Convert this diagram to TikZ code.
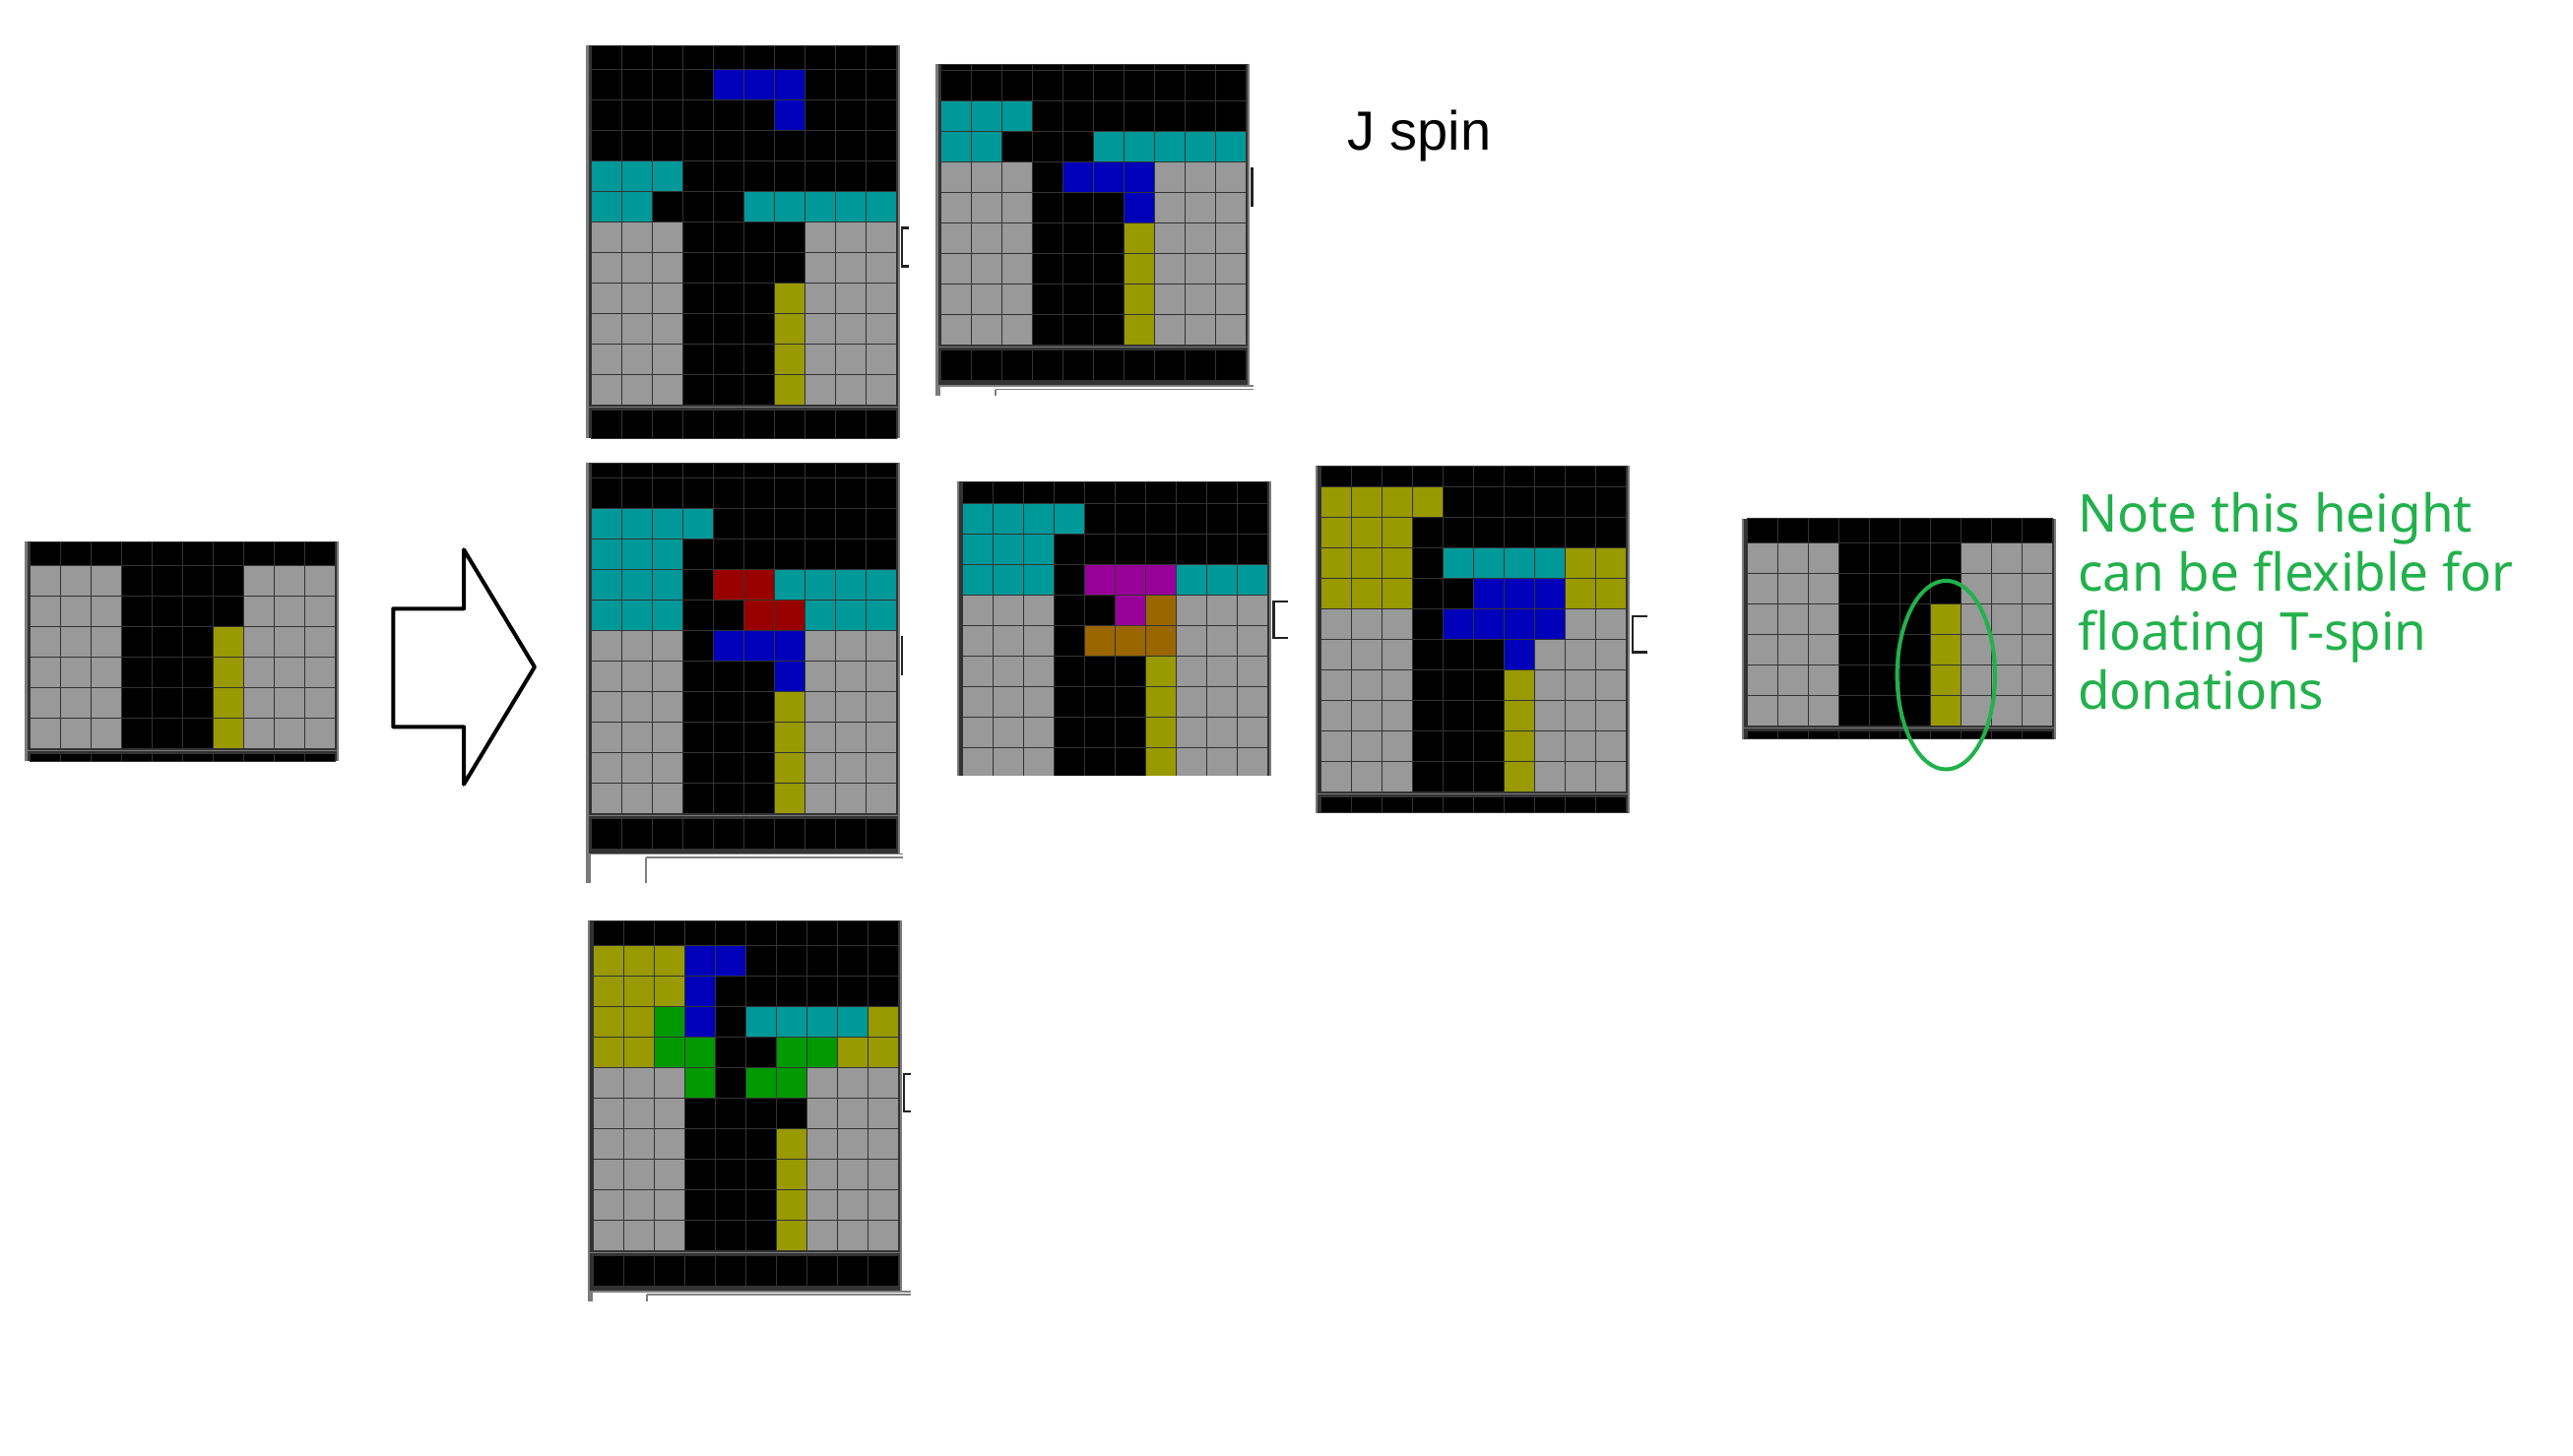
\documentclass[tikz,border=0pt]{standalone}
\usepackage{fontspec}
\newfontfamily\labelfont{Liberation Sans}
\newfontfamily\notefont{Noto Sans}
\definecolor{cG}{RGB}{153,153,153}
\definecolor{cK}{RGB}{0,0,0}
\definecolor{cY}{RGB}{153,153,0}
\definecolor{cT}{RGB}{0,153,153}
\definecolor{cB}{RGB}{0,0,187}
\definecolor{cR}{RGB}{153,0,0}
\definecolor{cM}{RGB}{153,0,153}
\definecolor{cO}{RGB}{153,102,0}
\definecolor{cN}{RGB}{0,153,0}
\definecolor{gridc}{RGB}{51,51,51}
\definecolor{framedark}{RGB}{51,51,51}
\definecolor{framelight}{RGB}{122,122,122}
\definecolor{winc}{RGB}{128,128,128}
\definecolor{bracketc}{RGB}{34,34,34}
\definecolor{notegreen}{RGB}{34,177,76}
\tikzset{
  cell/.style={draw=gridc, line width=1pt},
  bracketsty/.style={draw=bracketc, line width=2.5pt},
  winline/.style={draw=winc, line width=1.2pt},
  labeltext/.style={text=black, font=\labelfont\fontsize{56}{60}\selectfont, anchor=base west, inner sep=0pt},
  notetext/.style={text=notegreen, font=\notefont\fontsize{53}{60}\selectfont, anchor=base west, inner sep=0pt},
  bigarrow/.style={draw=black, fill=white, line width=4pt, line join=round},
  markring/.style={draw=notegreen, line width=4pt}
}
% #1 x0, #2 ytop, #3 first full row top, #4 cell width, #5 cell height, #6 field clip bottom, #7 background bottom, #8 rows
\newcommand{\tboard}[8]{%
  \pgfmathsetmacro{\bxr}{#1+10*#4}%
  \fill[framedark] (#1-5.5,#2) rectangle (\bxr+3.5,#7);
  \fill[framelight] (#1-5.5,#2) rectangle (#1-3,#7);
  \fill[framelight] (\bxr+1.8,#2) rectangle (\bxr+3.5,#7);
  \foreach \ii in {0,...,9}{\filldraw[cell,fill=black] (#1+\ii*#4,#2) rectangle ++(#4,#3-#2);}
  \begin{scope}
    \clip (#1-1,#3-1) rectangle (\bxr+1,#6);
    \foreach \rowlist [count=\rr from 0] in {#8}{
      \foreach \cc [count=\ii from 0] in \rowlist{
        \filldraw[cell,fill=c\cc] (#1+\ii*#4,#3+\rr*#5) rectangle ++(#4,#5);
      }
    }
  \end{scope}
}
% #1 x0, #2 cell width, #3 field bottom, #4 bottom row bottom
\newcommand{\tbottom}[4]{%
  \draw[framelight, line width=1pt] (#1-3,#3+2.5) -- (#1+10*#2+1.8,#3+2.5);
  \foreach \ii in {0,...,9}{\filldraw[cell,fill=black] (#1+\ii*#2,#3+5) rectangle ++(#2,#4-#3-5);}
}
\begin{document}
\begin{tikzpicture}[x=1pt,y=-1pt]
\useasboundingbox (0,0) rectangle (2613,1478);
\fill[white] (0,0) rectangle (2613,1478);

% ---- left board (start)
\tboard{30.7}{550}{574.3}{30.97}{31}{760.3}{773.3}{
{G,G,G,K,K,K,K,G,G,G},{G,G,G,K,K,K,K,G,G,G},
{G,G,G,K,K,K,Y,G,G,G},{G,G,G,K,K,K,Y,G,G,G},{G,G,G,K,K,K,Y,G,G,G},{G,G,G,K,K,K,Y,G,G,G}}
\tbottom{30.7}{30.97}{760.3}{773.3}

% ---- arrow
\draw[bigarrow] (399.3,618.3) -- (471,618.3) -- (471,558.3) -- (542.9,677.5) -- (471,796.7) -- (471,738.3) -- (399.3,738.3) -- cycle;

% ---- top board 1
\tboard{600.7}{46}{70.3}{30.93}{31}{411.3}{445}{
{K,K,K,K,B,B,B,K,K,K},{K,K,K,K,K,K,B,K,K,K},{K,K,K,K,K,K,K,K,K,K},
{T,T,T,K,K,K,K,K,K,K},{T,T,K,K,K,T,T,T,T,T},
{G,G,G,K,K,K,K,G,G,G},{G,G,G,K,K,K,K,G,G,G},
{G,G,G,K,K,K,Y,G,G,G},{G,G,G,K,K,K,Y,G,G,G},{G,G,G,K,K,K,Y,G,G,G},{G,G,G,K,K,K,Y,G,G,G}}
\tbottom{600.7}{30.93}{411.3}{445}
\draw[bracketsty] (923,231.7) -- (916,231.7) -- (916,270.7) -- (923,270.7);

% ---- top board 2
\tboard{955.7}{65}{71}{30.93}{31.04}{350.3}{391}{
{K,K,K,K,K,K,K,K,K,K},
{T,T,T,K,K,K,K,K,K,K},{T,T,K,K,K,T,T,T,T,T},
{G,G,G,K,B,B,B,G,G,G},{G,G,G,K,K,K,B,G,G,G},
{G,G,G,K,K,K,Y,G,G,G},{G,G,G,K,K,K,Y,G,G,G},{G,G,G,K,K,K,Y,G,G,G},{G,G,G,K,K,K,Y,G,G,G}}
\tbottom{955.7}{30.93}{350.3}{386}
\fill[framelight] (950.2,391) rectangle (955,402);
\draw[winline] (955,392) -- (1273,392);
\draw[winline] (1011,395.5) -- (1273,395.5) (1011,395.5) -- (1011,402);
\draw[bracketsty, line width=3pt] (1271.5,170) -- (1271.5,210);
\node[labeltext] (jspin) at (1368,152.7) {J spin};

% ---- middle board 1
\tboard{600.7}{470}{485}{30.93}{31.03}{826.3}{866.7}{
{K,K,K,K,K,K,K,K,K,K},
{T,T,T,T,K,K,K,K,K,K},{T,T,T,K,K,K,K,K,K,K},
{T,T,T,K,R,R,T,T,T,T},{T,T,T,K,K,R,R,T,T,T},
{G,G,G,K,B,B,B,G,G,G},{G,G,G,K,K,K,B,G,G,G},
{G,G,G,K,K,K,Y,G,G,G},{G,G,G,K,K,K,Y,G,G,G},{G,G,G,K,K,K,Y,G,G,G},{G,G,G,K,K,K,Y,G,G,G}}
\tbottom{600.7}{30.93}{826.3}{862}
\fill[framelight] (595.2,866.7) rectangle (600,896.7);
\draw[winline] (600,867.5) -- (917,867.5);
\draw[winline] (656,871) -- (917,871) (656,871) -- (656,896.7);
\draw[bracketsty, line width=2pt] (916,646) -- (916,686);

% ---- middle board 2
\tboard{977.3}{489}{511}{31}{31.04}{787.7}{787.7}{
{T,T,T,T,K,K,K,K,K,K},{T,T,T,K,K,K,K,K,K,K},
{T,T,T,K,M,M,M,T,T,T},
{G,G,G,K,K,M,O,G,G,G},{G,G,G,K,O,O,O,G,G,G},
{G,G,G,K,K,K,Y,G,G,G},{G,G,G,K,K,K,Y,G,G,G},{G,G,G,K,K,K,Y,G,G,G},{G,G,G,K,K,K,Y,G,G,G}}
\draw[bracketsty] (1308,611) -- (1293.5,611) -- (1293.5,648) -- (1308,648);

% ---- middle board 3
\tboard{1341.3}{473.3}{494.3}{31}{31}{804.3}{825.7}{
{Y,Y,Y,Y,K,K,K,K,K,K},{Y,Y,Y,K,K,K,K,K,K,K},
{Y,Y,Y,K,T,T,T,T,Y,Y},{Y,Y,Y,K,K,B,B,B,Y,Y},
{G,G,G,K,B,B,B,B,G,G},{G,G,G,K,K,K,B,G,G,G},
{G,G,G,K,K,K,Y,G,G,G},{G,G,G,K,K,K,Y,G,G,G},{G,G,G,K,K,K,Y,G,G,G},{G,G,G,K,K,K,Y,G,G,G}}
\tbottom{1341.3}{31}{804.3}{825.7}
\draw[bracketsty] (1673,626) -- (1658,626) -- (1658,662.5) -- (1673,662.5);

% ---- right board
\tboard{1774}{526.7}{551}{31.03}{31.05}{737.3}{750.7}{
{G,G,G,K,K,K,K,G,G,G},{G,G,G,K,K,K,K,G,G,G},
{G,G,G,K,K,K,Y,G,G,G},{G,G,G,K,K,K,Y,G,G,G},{G,G,G,K,K,K,Y,G,G,G},{G,G,G,K,K,K,Y,G,G,G}}
\tbottom{1774}{31.03}{737.3}{750.7}
\draw[markring] (1976.3,685.7) ellipse [x radius=49.7pt, y radius=95.8pt];

% ---- bottom board
\tboard{602.3}{935}{960.3}{31}{31}{1270.3}{1310.7}{
{Y,Y,Y,B,B,K,K,K,K,K},{Y,Y,Y,B,K,K,K,K,K,K},
{Y,Y,N,B,K,T,T,T,T,Y},{Y,Y,N,N,K,K,N,N,Y,Y},
{G,G,G,N,K,N,N,G,G,G},{G,G,G,K,K,K,K,G,G,G},
{G,G,G,K,K,K,Y,G,G,G},{G,G,G,K,K,K,Y,G,G,G},{G,G,G,K,K,K,Y,G,G,G},{G,G,G,K,K,K,Y,G,G,G}}
\tbottom{602.3}{31}{1270.3}{1306}
\fill[framelight] (596.8,1310.7) rectangle (601.5,1321.7);
\draw[winline] (601.5,1312) -- (925,1312);
\draw[winline] (657,1315) -- (925,1315) (657,1315) -- (657,1321.7);
\draw[bracketsty] (925,1091) -- (918,1091) -- (918,1129) -- (925,1129);

% ---- note
\node[notetext] (note1) at (2110,540) {Note this height};
\node[notetext] (note2) at (2110,600) {can be flexible for};
\node[notetext] (note3) at (2110,660) {floating T-spin};
\node[notetext] (note4) at (2110,720) {donations};
\end{tikzpicture}
\end{document}
